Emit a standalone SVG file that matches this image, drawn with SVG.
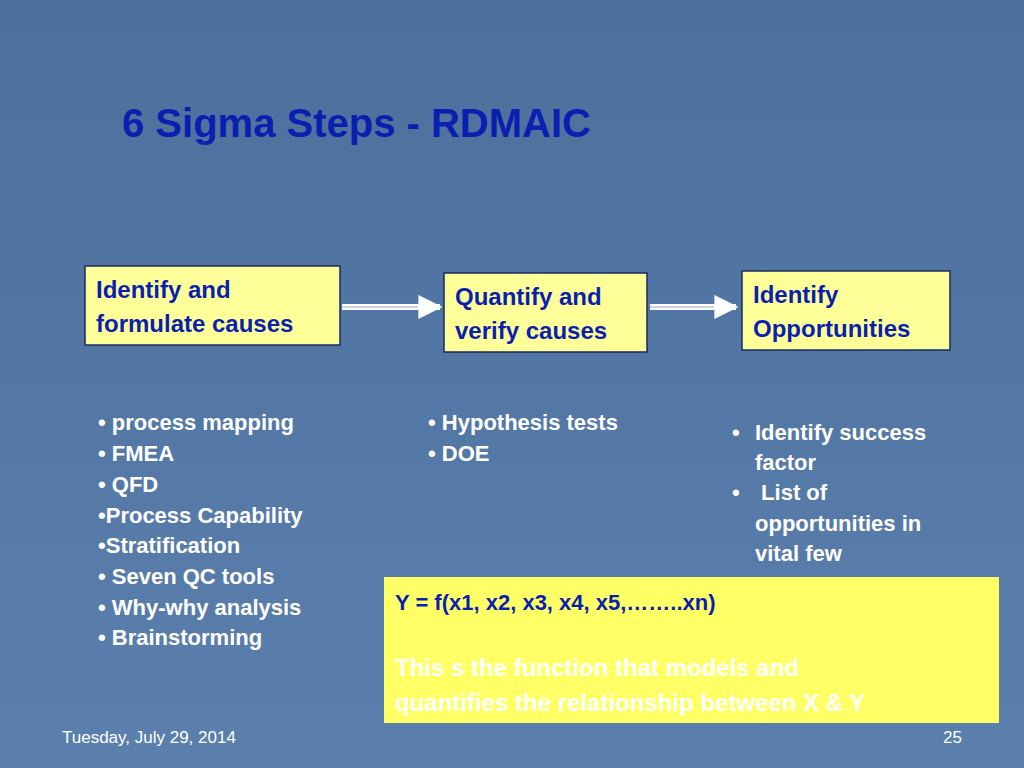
<svg xmlns="http://www.w3.org/2000/svg" width="1024" height="768" viewBox="0 0 1024 768">
<defs>
<linearGradient id="bg" x1="0" y1="0" x2="0" y2="1"><stop offset="0" stop-color="#4c6f9c"/><stop offset="1" stop-color="#5b80ad"/></linearGradient>
<marker id="ah" viewBox="0 0 10 10" refX="9" refY="5" markerWidth="4" markerHeight="4" markerUnits="strokeWidth" orient="auto"><path d="M0,0 L10,5 L0,10 z" fill="#ffffff"/></marker>
</defs>
<style>
.box{fill:#ffff99;stroke:#1a2a60;stroke-width:1.5}
.t{font-family:"Liberation Sans",Arial,sans-serif;font-weight:bold;fill:#0a1fb0}
.w{font-family:"Liberation Sans",Arial,sans-serif;font-weight:bold;fill:#ffffff;font-size:22px}
.f{font-family:"Liberation Sans",Arial,sans-serif;fill:#ffffff;font-size:17px}
</style>
<rect width="1024" height="768" fill="url(#bg)"/>
<text class="t" x="122" y="137" font-size="40">6 Sigma Steps - RDMAIC</text>
<g id="n1"><rect class="box" x="85" y="266" width="255" height="79"/><text class="t" font-size="24"><tspan x="96" y="298">Identify and</tspan><tspan x="96" y="332">formulate causes</tspan></text></g>
<g id="n2"><rect class="box" x="444" y="273" width="203" height="79"/><text class="t" font-size="24"><tspan x="455" y="305">Quantify and</tspan><tspan x="455" y="339">verify causes</tspan></text></g>
<g id="n3"><rect class="box" x="742" y="271" width="208" height="79"/><text class="t" font-size="24"><tspan x="753" y="303">Identify</tspan><tspan x="753" y="337">Opportunities</tspan></text></g>
<g id="connectors">
<line x1="342" y1="307" x2="440" y2="307" stroke="#ffffff" stroke-width="6" marker-end="url(#ah)"/>
<line x1="342" y1="307" x2="418" y2="307" stroke="#9aa8bb" stroke-width="1.2"/>
<line x1="650" y1="307" x2="736" y2="307" stroke="#ffffff" stroke-width="6" marker-end="url(#ah)"/>
<line x1="650" y1="307" x2="714" y2="307" stroke="#9aa8bb" stroke-width="1.2"/>
</g>
<text class="w"><tspan x="98" y="430">• process mapping</tspan><tspan x="98" y="461">• FMEA</tspan><tspan x="98" y="492">• QFD</tspan><tspan x="98" y="523">•Process Capability</tspan><tspan x="98" y="553">•Stratification</tspan><tspan x="98" y="584">• Seven QC tools</tspan><tspan x="98" y="615">• Why-why analysis</tspan><tspan x="98" y="645">• Brainstorming</tspan></text>
<text class="w"><tspan x="428" y="430">• Hypothesis tests</tspan><tspan x="428" y="461">• DOE</tspan></text>
<text class="w"><tspan x="732" y="440">•</tspan><tspan x="755" y="440">Identify success</tspan><tspan x="755" y="470">factor</tspan><tspan x="732" y="500">•</tspan><tspan x="755" y="500"> List of</tspan><tspan x="755" y="531">opportunities in</tspan><tspan x="755" y="561">vital few</tspan></text>
<g id="n4"><rect x="384" y="577" width="615" height="146" fill="#ffff66"/><text class="t" font-size="22"><tspan x="395" y="610">Y = f(x1, x2, x3, x4, x5,……..xn)</tspan></text><text class="w" font-size="24"><tspan x="395" y="676" font-size="24">This s the function that models and</tspan><tspan x="395" y="711" font-size="24">quantifies the relationship between X &amp; Y</tspan></text></g>
<text class="f" x="62" y="743">Tuesday, July 29, 2014</text>
<text class="f" x="962" y="743" text-anchor="end">25</text>
</svg>
